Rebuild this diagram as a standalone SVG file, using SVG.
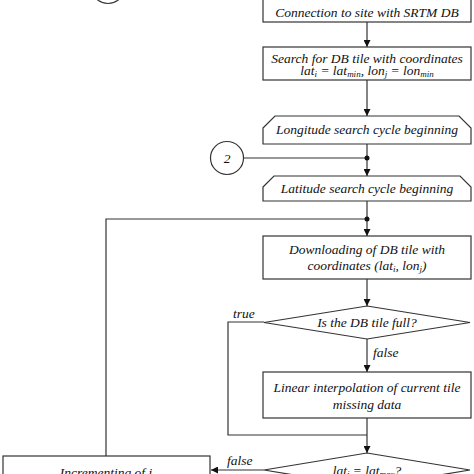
<svg xmlns="http://www.w3.org/2000/svg" width="474" height="474" viewBox="0 0 474 474">
<defs>
<marker id="arr" viewBox="0 0 10 10" refX="10" refY="5" markerWidth="7" markerHeight="7" markerUnits="userSpaceOnUse" orient="auto">
<path d="M0,0 L10,5 L0,10 z" fill="#111"/>
</marker>
</defs>
<style>
.s{fill:#fff;stroke:#333;stroke-width:1.2}
.c{fill:none;stroke:#333;stroke-width:1.2}
text{font-family:'Liberation Serif','DejaVu Serif','Times New Roman',serif;font-style:italic;font-size:13.5px;fill:#111}
.t{text-anchor:middle}
.d{fill:#111}
</style>
<rect width="474" height="474" fill="#fff"/>
<g id="connectors">
<line class="c" x1="367" y1="22" x2="367" y2="47" marker-end="url(#arr)"/>
<line class="c" x1="367" y1="80" x2="367" y2="116" marker-end="url(#arr)"/>
<line class="c" x1="367" y1="144" x2="367" y2="176" marker-end="url(#arr)"/>
<line class="c" x1="243.5" y1="158" x2="367" y2="158"/>
<circle class="d" cx="367" cy="158" r="2.5"/>
<line class="c" x1="367" y1="201" x2="367" y2="236" marker-end="url(#arr)"/>
<polyline class="c" points="106,456 106,219 367,219"/>
<circle class="d" cx="367" cy="219" r="2.5"/>
<line class="c" x1="367" y1="279" x2="367" y2="306" marker-end="url(#arr)"/>
<line class="c" x1="367" y1="339" x2="367" y2="372" marker-end="url(#arr)"/>
<polyline class="c" points="264,322 228,322 228,435 367,435"/>
<line class="c" x1="367" y1="418" x2="367" y2="453" marker-end="url(#arr)"/>
<line class="c" x1="264" y1="470" x2="211" y2="470" marker-end="url(#arr)"/>
<text x="233" y="318">true</text>
<text x="373" y="357">false</text>
<text x="227" y="465">false</text>
</g>
<g id="c1">
<circle class="s" cx="108" cy="-13" r="16.5"/>
</g>
<g id="n1">
<rect class="s" x="263" y="-10" width="208" height="32"/>
<text class="t" x="367" y="17">Connection to site with SRTM DB</text>
</g>
<g id="n2">
<rect class="s" x="263" y="47" width="208" height="33"/>
<text class="t" x="367" y="63">Search for DB tile with coordinates</text>
<text class="t" x="367" y="75">lat<tspan font-size="9" dy="2">i</tspan><tspan dy="-2"> = lat</tspan><tspan font-size="9" dy="2">min</tspan><tspan dy="-2">, lon</tspan><tspan font-size="9" dy="2">j</tspan><tspan dy="-2"> = lon</tspan><tspan font-size="9" dy="2">min</tspan></text>
</g>
<g id="n3">
<polygon class="s" points="263,128 275,116 459,116 471,128 471,144 263,144"/>
<text class="t" x="367" y="134">Longitude search cycle beginning</text>
</g>
<g id="c2">
<circle class="s" cx="227" cy="158" r="16.5"/>
<text class="t" x="227" y="162.5">2</text>
</g>
<g id="n4">
<polygon class="s" points="263,187 274,176 460,176 471,187 471,201 263,201"/>
<text class="t" x="367" y="193">Latitude search cycle beginning</text>
</g>
<g id="n5">
<rect class="s" x="263" y="236" width="208" height="43"/>
<text class="t" x="367" y="254">Downloading of DB tile with</text>
<text class="t" x="367" y="270">coordinates (lat<tspan font-size="9" dy="2">i</tspan><tspan dy="-2">, lon</tspan><tspan font-size="9" dy="2">j</tspan><tspan dy="-2">)</tspan></text>
</g>
<g id="n6">
<polygon class="s" points="367,306 470,322.5 367,339 264,322.5"/>
<text class="t" x="367" y="327">Is the DB tile full?</text>
</g>
<g id="n7">
<rect class="s" x="263" y="372" width="208" height="46"/>
<text class="t" x="367" y="392">Linear interpolation of current tile</text>
<text class="t" x="367" y="409">missing data</text>
</g>
<g id="n8">
<polygon class="s" points="367,453 470,470 367,487 264,470"/>
<text class="t" x="367" y="475">lat<tspan font-size="9" dy="2">i</tspan><tspan dy="-2"> = lat</tspan><tspan font-size="9" dy="2">max</tspan><tspan dy="-2">?</tspan></text>
</g>
<g id="n9">
<rect class="s" x="3" y="456" width="207" height="30"/>
<text class="t" x="106" y="477">Incrementing of i</text>
</g>
</svg>
